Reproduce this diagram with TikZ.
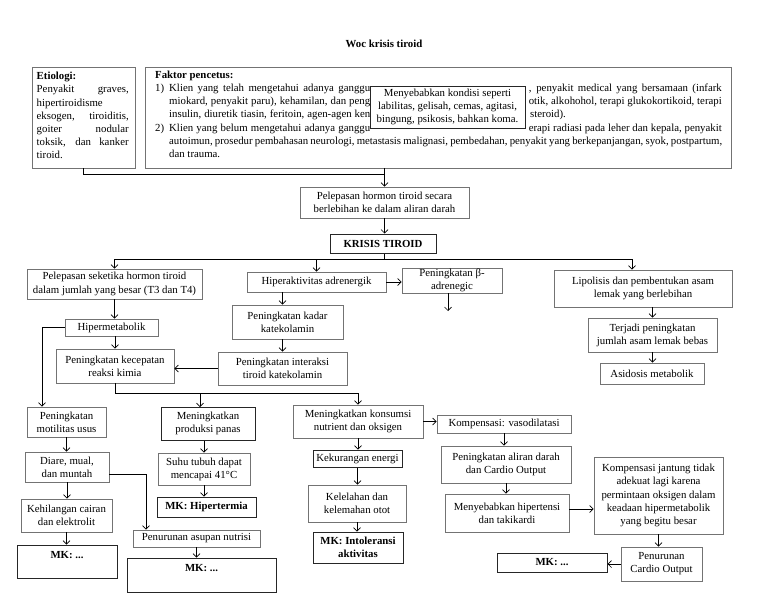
\documentclass[tikz,border=0pt]{standalone}
\usepackage{fontspec}
\setmainfont{Liberation Serif}
\usetikzlibrary{arrows.meta}

\begin{document}
\begin{tikzpicture}[x=1pt,y=-1pt,
  every node/.style={font=\fontsize{10.8}{13.2}\selectfont},
  box/.style={draw=black!55, line width=0.8pt, align=center, inner sep=1pt},
  boxtebal/.style={box, draw=black!85, line width=1pt},
  teks/.style={inner sep=0pt},
  garis/.style={line width=0.7pt},
  arr/.style={garis, -{Straight Barb[length=3.5pt,width=7pt]}}]
\useasboundingbox (0,0) rectangle (768,594);

\node[font=\fontsize{10.8}{13.2}\selectfont\bfseries] (judul) at (384,44) {Woc krisis tiroid};

% etiologi dan faktor pencetus
\node[box, minimum width=103, minimum height=101] (etio) at (83.5,117.5) {};
\node[teks, anchor=north west, text width=92, align=justify] (etioteks) at (36.5,72)
  {\textbf{Etiologi:}\\Penyakit graves,\linebreak hipertiroidisme\linebreak eksogen, tiroiditis,\linebreak goiter nodular\linebreak toksik, dan kanker\linebreak tiroid.};
\node[box, minimum width=586, minimum height=101] (faktor) at (438,117.5) {};
\node[teks, anchor=base west] (judulfaktor) at (155,78.5) {\textbf{Faktor pencetus:}};
\node[teks, anchor=base west] (no1) at (155,91.5) {1)};
\node[teks, anchor=base west] (f1a) at (169,91.5) {\makebox[201pt][s]{Klien yang telah mengetahui adanya ganggu}};
\node[teks, anchor=base east] (f1b) at (722,91.5) {\makebox[193pt][s]{, penyakit medical yang bersamaan (infark}};
\node[teks, anchor=base west] (f2a) at (169,104.7) {\makebox[201pt][s]{miokard, penyakit paru), kehamilan, dan peng}};
\node[teks, anchor=base east] (f2b) at (722,104.7) {\makebox[193pt][s]{otik, alkohohol, terapi glukokortikoid, terapi}};
\node[teks, anchor=base west] (f3a) at (169,117.9) {\makebox[201pt][s]{insulin, diuretik tiasin, feritoin, agen-agen ken}};
\node[teks, anchor=base west] (f3b) at (530,117.9) {steroid).};
\node[teks, anchor=base west] (no2) at (155,131.1) {2)};
\node[teks, anchor=base west] (f4a) at (169,131.1) {\makebox[201pt][s]{Klien yang belum mengetahui adanya ganggu}};
\node[teks, anchor=base east] (f4b) at (722,131.1) {\makebox[193pt][s]{erapi radiasi pada leher dan kepala, penyakit}};
\node[teks, anchor=base west] (f5) at (169,144.3) {\makebox[553pt][s]{autoimun, prosedur pembahasan neurologi, metastasis malignasi, pembedahan, penyakit yang berkepanjangan, syok, postpartum,}};
\node[teks, anchor=base west] (f6) at (169,157.5) {dan trauma.};
\node[boxtebal, fill=white, minimum width=155, minimum height=42] (kondisi) at (447.5,107)
  {Menyebabkan kondisi seperti\\labilitas, gelisah, cemas, agitasi,\\bingung, psikosis, bahkan koma.};

% alur utama
\node[box, minimum width=169, minimum height=31] (lepas) at (384.5,202.5) {Pelepasan hormon tiroid secara\\berlebihan ke dalam aliran darah};
\node[boxtebal, minimum width=106, minimum height=19] (krisis) at (383,243.5) {\textbf{KRISIS TIROID}};

\node[box, minimum width=175, minimum height=30] (seketika) at (114.5,284) {Pelepasan seketika hormon tiroid\\dalam jumlah yang besar (T3 dan T4)};
\node[box, minimum width=93, minimum height=17] (hipermet) at (111.5,327.5) {Hipermetabolik};
\node[box, minimum width=118, minimum height=34] (kecepatan) at (115,366) {Peningkatan kecepatan\\reaksi kimia};
\node[box, minimum width=139, minimum height=20] (hiper) at (316.5,282) {Hiperaktivitas adrenergik};
\node[box, minimum width=100, minimum height=25] (beta) at (452,280.5) {Peningkatan β-\\adrenegic};
\node[box, minimum width=111, minimum height=34] (kadar) at (287.5,322) {Peningkatan kadar\\katekolamin};
\node[box, minimum width=129, minimum height=33] (interaksi) at (282.5,368.5) {Peningkatan interaksi\\tiroid katekolamin};
\node[box, minimum width=178, minimum height=37] (lipo) at (643,288.5) {Lipolisis dan pembentukan asam\\lemak yang berlebihan};
\node[box, minimum width=129, minimum height=34] (terjadi) at (652.5,335) {Terjadi peningkatan\\jumlah asam lemak bebas};
\node[box, minimum width=104, minimum height=21] (asidosis) at (652,373.5) {Asidosis metabolik};

% cabang bawah
\node[box, minimum width=79, minimum height=30] (motilitas) at (66.5,422) {Peningkatan\\motilitas usus};
\node[box, minimum width=84, minimum height=30] (diare) at (67,467) {Diare, mual,\\dan muntah};
\node[box, minimum width=91, minimum height=33] (kehilangan) at (66.5,515.5) {Kehilangan cairan\\dan elektrolit};
\node[boxtebal, minimum width=100, minimum height=33] (mk1) at (67,561.5) {\textbf{MK: ...}\\\mbox{}};
\node[boxtebal, minimum width=94, minimum height=33] (panas) at (208,423.5) {Meningkatkan\\produksi panas};
\node[box, minimum width=92, minimum height=32] (suhu) at (204,469) {Suhu tubuh dapat\\mencapai 41°C};
\node[boxtebal, minimum width=99, minimum height=20] (hipertermia) at (206.5,507) {\textbf{MK: Hipertermia}};
\node[box, minimum width=127, minimum height=17] (asupan) at (196.5,538.5) {Penurunan asupan nutrisi};
\node[boxtebal, minimum width=149, minimum height=34] (mk2) at (201.5,575) {\textbf{MK: ...}\\\mbox{}};
\node[box, minimum width=130, minimum height=33] (konsumsi) at (358,421.5) {Meningkatkan konsumsi\\nutrient dan oksigen};
\node[boxtebal, minimum width=89, minimum height=17] (kurang) at (357.5,458.5) {Kekurangan energi};
\node[box, minimum width=98, minimum height=37] (lelah) at (357,503.5) {Kelelahan dan\\kelemahan otot};
\node[boxtebal, minimum width=90, minimum height=31] (intol) at (358,547.5) {\textbf{MK: Intoleransi}\\\textbf{aktivitas}};
\node[box, minimum width=134, minimum height=18] (kompensasi) at (504,424) {Kompensasi: vasodilatasi};
\node[box, minimum width=130, minimum height=37] (aliran) at (506,464.5) {Peningkatan aliran darah\\dan Cardio Output};
\node[box, minimum width=124, minimum height=38] (hipertensi) at (507,513) {Menyebabkan hipertensi\\dan takikardi};
\node[box, minimum width=129, minimum height=77] (jantung) at (658.5,495.5) {Kompensasi jantung tidak\\adekuat lagi karena\\permintaan oksigen dalam\\keadaan hipermetabolik\\yang begitu besar};
\node[box, minimum width=81, minimum height=34] (CO) at (661.5,564) {Penurunan\\Cardio Output};
\node[boxtebal, minimum width=110, minimum height=19] (mk3) at (552,562.5) {\textbf{MK: ...}};

% titik bantu
\coordinate (gabung) at (384.5,174);
\coordinate (cabang) at (384.5,259);
\coordinate (reaksi) at (115,393);
\coordinate (betaujung) at (448,311);
\coordinate (panasmasuk) at (200,407);
\coordinate (tensikanan) at ([yshift=4]hipertensi.east);

% panah
\draw[garis] (etio.south) |- (gabung);
\draw[arr] (faktor.south -| gabung) -- (lepas.north);
\draw[arr] (lepas.south) -- (lepas.south |- krisis.north);
\draw[garis] (krisis.south -| cabang) -- (cabang);
\draw[arr] (cabang) -| (seketika.north);
\draw[arr] (cabang) -| (hiper.north);
\draw[arr] (cabang) -| ([xshift=-11]lipo.north);
\draw[arr] (hiper.east) -- (hiper.east -| beta.west);
\draw[arr] (beta.south -| betaujung) -- (betaujung);
\draw[arr] (hiper.south -| interaksi.north) -- (kadar.north -| interaksi.north);
\draw[arr] (kadar.south -| interaksi.north) -- (interaksi.north);
\draw[arr] (interaksi.west) -- (interaksi.west -| kecepatan.east);
\draw[arr] (seketika.south) -- (seketika.south |- hipermet.north);
\draw[arr] (hipermet.west) -| ([xshift=-24.5]motilitas.north);
\draw[arr] (hipermet.south -| kecepatan.north) -- (kecepatan.north);
\draw[garis] (kecepatan.south) -- (reaksi);
\draw[arr] (reaksi) -| (konsumsi.north);
\draw[arr] (panasmasuk |- reaksi) -- (panasmasuk);
\draw[arr] (lipo.south -| terjadi.north) -- (terjadi.north);
\draw[arr] (terjadi.south) -- (terjadi.south |- asidosis.north);

\draw[arr] (motilitas.south) -- (motilitas.south |- diare.north);
\draw[arr] (diare.south) -- (diare.south |- kehilangan.north);
\draw[arr] (kehilangan.south) -- (kehilangan.south |- mk1.north);
\draw[arr] ([yshift=-7]diare.east) -| ([xshift=-50.5]asupan.north);
\draw[arr] (suhu.north |- panas.south) -- (suhu.north);
\draw[arr] (suhu.south) -- (suhu.south |- hipertermia.north);
\draw[arr] (asupan.south) -- (asupan.south |- mk2.north);
\draw[arr] (konsumsi.south) -- (konsumsi.south |- kurang.north);
\draw[arr] (kurang.south) -- (kurang.south |- lelah.north);
\draw[arr] (lelah.south) -- (lelah.south |- intol.north);
\draw[arr] (konsumsi.east) -- (konsumsi.east -| kompensasi.west);
\draw[arr] (kompensasi.south) -- (kompensasi.south |- aliran.north);
\draw[arr] (aliran.south) -- (aliran.south |- hipertensi.north);
\draw[arr] (tensikanan) -- (tensikanan -| jantung.west);
\draw[arr] (jantung.south) -- (jantung.south |- CO.north);
\draw[arr] (CO.west) -- (CO.west -| mk3.east);
\end{tikzpicture}
\end{document}
